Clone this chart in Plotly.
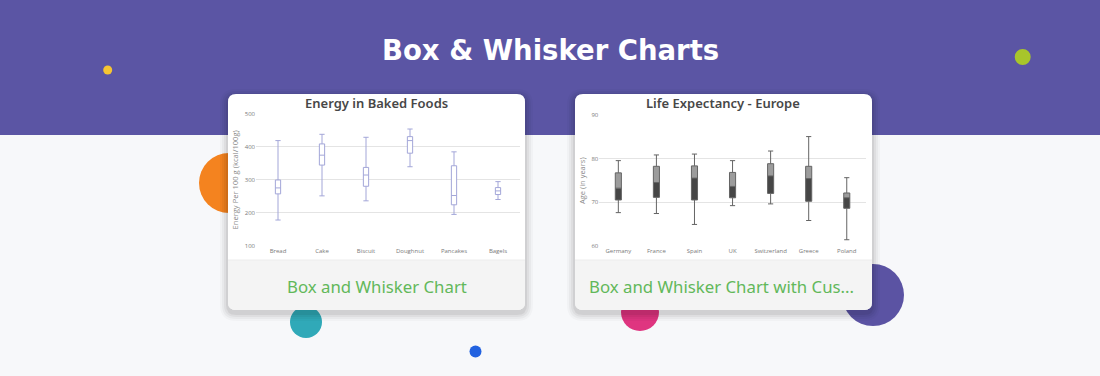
import plotly.graph_objects as go

# ---------------- data ----------------
foods = ["Bread", "Cake", "Biscuit", "Doughnut", "Pancakes", "Bagels"]
food_low = [178, 251, 236, 339, 195, 240]
food_q1 = [257, 344, 280, 380, 224, 255]
food_med = [275, 374, 314, 418, 252, 266]
food_q3 = [299, 408, 337, 430, 342, 276]
food_high = [418, 437, 428, 453, 384, 294]

countries = ["Germany", "France", "Spain", "UK", "Switzerland", "Greece", "Poland"]
life_low = [67.6, 67.4, 64.9, 69.2, 69.6, 65.8, 61.4]
life_q1 = [70.5, 71.1, 70.5, 71.0, 72.0, 70.2, 68.6]
life_med = [73.2, 74.5, 75.5, 73.6, 76.0, 75.4, 71.0]
life_q3 = [76.7, 78.2, 78.3, 76.8, 78.8, 78.2, 72.1]
life_high = [79.5, 80.8, 81.0, 79.5, 81.7, 85.0, 75.6]

food_ticks = [100, 200, 300, 400, 500]
life_ticks = [60, 70, 80, 90]

W, H = 1100, 376


def X(x):
    return x / W


def Y(y):
    return 1 - y / H


def rrect(x0, y0, x1, y1, r, top=True, bottom=True):
    rt = r if top else 0
    rb = r if bottom else 0
    pts = []
    pts.append(f"M{X(x0 + rt)},{Y(y0)}")
    pts.append(f"L{X(x1 - rt)},{Y(y0)}")
    if rt:
        pts.append(f"Q{X(x1)},{Y(y0)} {X(x1)},{Y(y0 + rt)}")
    pts.append(f"L{X(x1)},{Y(y1 - rb)}")
    if rb:
        pts.append(f"Q{X(x1)},{Y(y1)} {X(x1 - rb)},{Y(y1)}")
    pts.append(f"L{X(x0 + rb)},{Y(y1)}")
    if rb:
        pts.append(f"Q{X(x0)},{Y(y1)} {X(x0)},{Y(y1 - rb)}")
    pts.append(f"L{X(x0)},{Y(y0 + rt)}")
    if rt:
        pts.append(f"Q{X(x0)},{Y(y0)} {X(x0 + rt)},{Y(y0)}")
    pts.append("Z")
    return " ".join(pts)


def circle(cx, cy, r, color):
    return dict(type="circle", xref="paper", yref="paper", layer="below",
                x0=X(cx - r), x1=X(cx + r), y0=Y(cy + r), y1=Y(cy - r),
                fillcolor=color, line=dict(width=0))


shapes = []
# header band
shapes.append(dict(type="rect", xref="paper", yref="paper", layer="below",
                   x0=0, x1=1, y0=Y(135), y1=1, fillcolor="#5b55a4", line=dict(width=0)))
# decorative circles (behind cards)
shapes.append(circle(229, 183, 30, "#f4831f"))
shapes.append(circle(306, 322, 16, "#30a9b8"))
shapes.append(circle(640, 312, 19, "#df3580"))
shapes.append(circle(873, 295, 31, "#5b53a3"))
shapes.append(circle(107.7, 70, 4.5, "#f6c532"))
shapes.append(circle(1022.7, 57, 8, "#a8c52b"))
shapes.append(circle(475.5, 351.5, 6, "#2262e0"))

cards = [(228, 94, 525, 310), (575, 94, 872, 310)]
for (x0, y0, x1, y1) in cards:
    for i, op in [(8, 0.025), (6, 0.035), (4, 0.045), (2, 0.06)]:
        shapes.append(dict(type="path", xref="paper", yref="paper", layer="below",
                           path=rrect(x0 - i, y0 - i + 3, x1 + i, y1 + i + 3, 8 + i),
                           fillcolor=f"rgba(0,0,0,{op})", line=dict(width=0)))
    shapes.append(dict(type="path", xref="paper", yref="paper", layer="below",
                       path=rrect(x0, y0, x1, y1, 8), fillcolor="#ffffff",
                       line=dict(width=0)))
    shapes.append(dict(type="path", xref="paper", yref="paper", layer="below",
                       path=rrect(x0, 260, x1, y1, 8, top=False), fillcolor="#f4f4f4",
                       line=dict(width=0)))
    shapes.append(dict(type="line", xref="paper", yref="paper", layer="below",
                       x0=X(x0), x1=X(x1), y0=Y(260), y1=Y(260),
                       line=dict(color="#ececec", width=1)))

fig = go.Figure()

# chart 1: Energy in Baked Foods
fig.add_trace(go.Box(
    x=foods, q1=food_q1, median=food_med, q3=food_q3,
    lowerfence=food_low, upperfence=food_high,
    xaxis="x", yaxis="y", width=0.12, whiskerwidth=1,
    fillcolor="#ffffff", line=dict(color="#a3a6d8", width=1),
    boxpoints=False, hoverinfo="skip", showlegend=False,
))

# chart 2: Life Expectancy - Europe
fig.add_trace(go.Bar(
    x=countries, base=life_med, y=[q3 - m for q3, m in zip(life_q3, life_med)],
    xaxis="x2", yaxis="y2", width=0.16, marker=dict(color="#9c9c9c", line=dict(width=0)),
    hoverinfo="skip", showlegend=False,
))
fig.add_trace(go.Bar(
    x=countries, base=life_q1, y=[m - q1 for m, q1 in zip(life_med, life_q1)],
    xaxis="x2", yaxis="y2", width=0.16, marker=dict(color="#464646", line=dict(width=0)),
    hoverinfo="skip", showlegend=False,
))
fig.add_trace(go.Box(
    x=countries, q1=life_q1, median=life_med, q3=life_q3,
    lowerfence=life_low, upperfence=life_high,
    xaxis="x2", yaxis="y2", width=0.16, whiskerwidth=0.85,
    fillcolor="rgba(0,0,0,0)", line=dict(color="#646464", width=1),
    boxpoints=False, hoverinfo="skip", showlegend=False,
))

tickfont = dict(family="Open Sans", size=6, color="#7a7a7a")
grid = "#e4e4e4"

annotations = [
    dict(text="Box & Whisker Charts", x=X(550), y=Y(50), xref="paper", yref="paper",
         showarrow=False, font=dict(family="DejaVu Sans", size=27.5, color="#ffffff", weight=700),
         xanchor="center", yanchor="middle"),
    dict(text="Energy in Baked Foods", x=X(376.5), y=Y(103), xref="paper", yref="paper",
         showarrow=False, font=dict(family="Noto Sans", size=13, color="#474747", weight=600),
         xanchor="center", yanchor="middle"),
    dict(text="Life Expectancy - Europe", x=X(723), y=Y(103), xref="paper", yref="paper",
         showarrow=False, font=dict(family="Noto Sans", size=13, color="#474747", weight=600),
         xanchor="center", yanchor="middle"),
    dict(text="Energy Per 100 g (kcal/100g)", x=X(234.5), y=Y(180), xref="paper", yref="paper",
         showarrow=False, textangle=-90, font=dict(family="Open Sans", size=7.6, color="#8a8a8a"),
         xanchor="center", yanchor="middle"),
    dict(text="Age (in years)", x=X(582), y=Y(181), xref="paper", yref="paper",
         showarrow=False, textangle=-90, font=dict(family="Open Sans", size=7.5, color="#8a8a8a"),
         xanchor="center", yanchor="middle"),
    dict(text="Box and Whisker Chart", x=X(377), y=Y(286), xref="paper", yref="paper",
         showarrow=False, font=dict(family="Noto Sans", size=16.8, color="#62b85a"),
         xanchor="center", yanchor="middle"),
    dict(text="Box and Whisker Chart with Cus...", x=X(587), y=Y(286), xref="paper", yref="paper",
         showarrow=False, font=dict(family="Noto Sans", size=16.8, color="#62b85a"),
         xanchor="left", yanchor="middle"),
]

axis_common = dict(automargin=False, fixedrange=True, zeroline=False, showline=False, ticks="")

fig.update_layout(
    width=W, height=H,
    autosize=False,
    margin=dict(l=0, r=0, t=0, b=0, pad=0, autoexpand=False),
    paper_bgcolor="#f7f8fa",
    plot_bgcolor="rgba(0,0,0,0)",
    barmode="overlay",
    showlegend=False,
    shapes=shapes,
    annotations=annotations,
    xaxis=dict(domain=[X(256), X(520)], range=[-0.5, 5.5], type="category",
               showgrid=False, tickfont=tickfont, anchor="y", **axis_common),
    yaxis=dict(domain=[Y(246), Y(113.3)], range=[99.5, 500.5], tickvals=food_ticks,
               showgrid=True, gridcolor=grid, gridwidth=1,
               tickfont=tickfont, anchor="x", **axis_common),
    xaxis2=dict(domain=[X(599.3), X(865.8)], range=[-0.5, 6.5], type="category",
                showgrid=False, tickfont=tickfont, anchor="y2", **axis_common),
    yaxis2=dict(domain=[Y(246.3), Y(114.3)], range=[59.9, 90.1], tickvals=life_ticks,
                showgrid=True, gridcolor=grid, gridwidth=1,
                tickfont=tickfont, anchor="x2", **axis_common),
)

post = (
    "document.documentElement.style.margin='0';"
    "document.body.style.margin='0';"
    "document.body.style.overflow='hidden';"
    "document.documentElement.style.overflow='hidden';"
    "var d=document.getElementById('{plot_id}');"
    "d.style.position='fixed';d.style.left='0px';d.style.top='0px';"
)

fig.write_html("out.html", config={"displayModeBar": False, "responsive": False},
               post_script=post)
